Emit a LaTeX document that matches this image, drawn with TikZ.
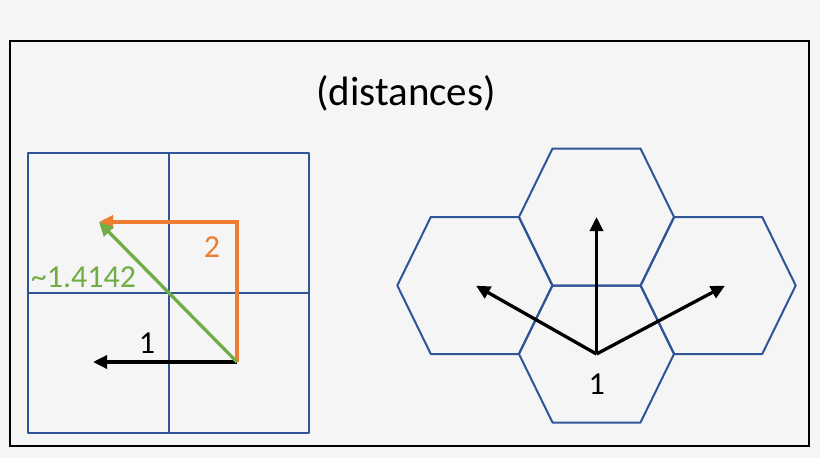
\documentclass[tikz,border=0pt]{standalone}
\usepackage{fontspec}
\setmainfont{Carlito}
\usetikzlibrary{arrows.meta}
\definecolor{gridblue}{HTML}{2F5597}
\definecolor{steporange}{HTML}{ED7D31}
\definecolor{diaggreen}{HTML}{70AD47}
\definecolor{bggray}{HTML}{F5F5F5}
\tikzset{
  cell/.style={draw=gridblue, line width=2pt, line join=round},
  move/.style={line width=3.3pt, -{Triangle[length=14pt,width=13pt]}},
  lbl/.style={font=\fontsize{32}{32}\selectfont, inner sep=0pt},
}
\begin{document}
\begin{tikzpicture}[x=1pt,y=-1pt]
    \useasboundingbox (0,0) rectangle (820,458);
    \fill[bggray] (0,0) rectangle (820,458);
    \draw[line width=2.2pt] (10,41) rectangle (809,446);
    \node[font=\fontsize{41}{41}\selectfont] (title) at (406,93) {(distances)};

    % square cells
    \draw[cell] (28,153) rectangle (309,433);
    \draw[cell] (168.5,153) -- (168.5,433) (28,293) -- (309,293);
    \coordinate (sq) at (237,362);
    \coordinate (sqW) at (93,362);
    \coordinate (sqC) at (237,222);
    \coordinate (sqNW) at (99,222);
    \draw[move] (sq) -- (sqW);
    \draw[move, steporange] (sq) -- (sqC) -- (sqNW);
    \draw[move, diaggreen] (sq) -- (sqNW);
    \node[lbl] (one) at (147,343) {1};
    \node[lbl, steporange] (two) at (212,247) {2};
    \node[lbl, diaggreen] (diag) at (83.5,277) {\textasciitilde1.4142};

    % hex cells
    \foreach \n/\cx/\cy in {hb/596.5/354, ht/596.5/217, hl/474.8/285.5, hr/718.2/285.5} {
        \draw[cell, shift={(\cx,\cy)}] (-77.5,0) -- (-44,-68.5) -- (44,-68.5)
            -- (77.5,0) -- (44,68.5) -- (-44,68.5) -- cycle;
        \coordinate (\n) at (\cx,\cy);
    }
    \coordinate (hlTip) at (476,285.7);
    \coordinate (hrTip) at (725,285.7);
    \draw[move] (hb) -- (ht);
    \draw[move] (hb) -- (hlTip);
    \draw[move] (hb) -- (hrTip);
    \node[lbl] (hone) at (596.7,384) {1};
\end{tikzpicture}
\end{document}
